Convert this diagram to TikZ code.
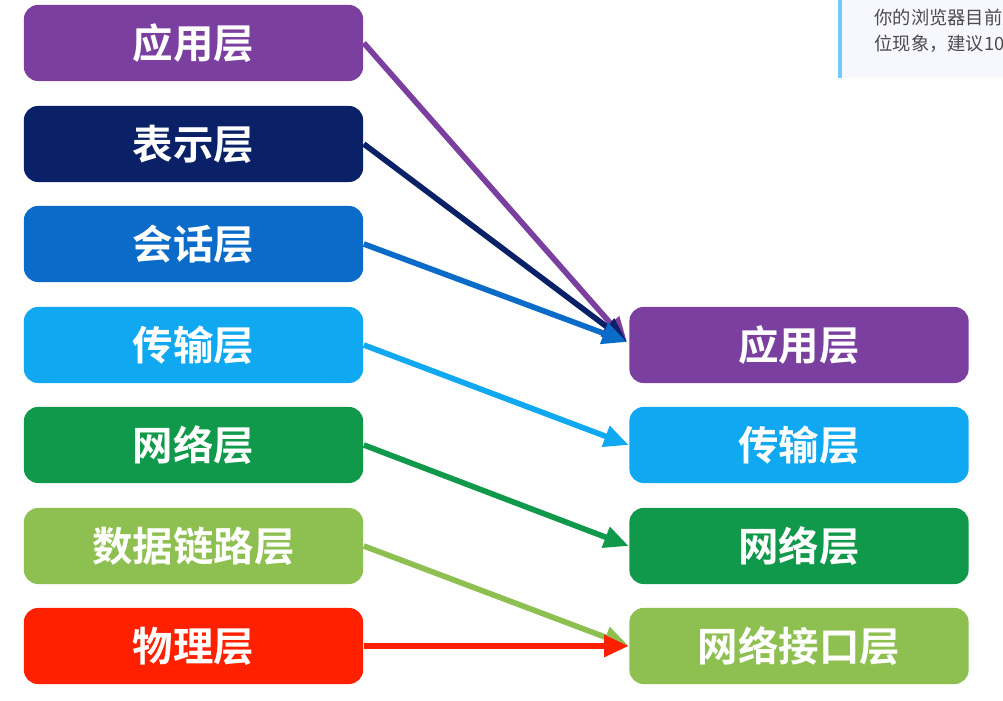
\documentclass[tikz,border=0pt]{standalone}
\usepackage{fontspec}
\newfontfamily\cjk{Noto Sans CJK SC Bold}
\newfontfamily\cjkr{Noto Sans CJK SC}
\usetikzlibrary{arrows.meta}
\definecolor{cA}{HTML}{7B3FA0}
\definecolor{cB}{HTML}{0A2168}
\definecolor{cC}{HTML}{0A6CC8}
\definecolor{cD}{HTML}{10A8F0}
\definecolor{cE}{HTML}{10994A}
\definecolor{cF}{HTML}{8DC050}
\definecolor{cG}{HTML}{FF2000}
\begin{document}
\begin{tikzpicture}[x=0.01cm,y=-0.01cm,
  layer/.style={rounded corners=4pt,minimum width=3.39cm,minimum height=0.76cm,text=white,font=\cjk\fontsize{11.5}{13}\selectfont,inner sep=0},
  conn/.style={line width=1.6pt,-{Triangle[length=7pt,width=6pt]}}]
\useasboundingbox (0,0) rectangle (1003,701);
\fill[white] (0,0) rectangle (1003,701);
\foreach \n/\t/\c/\y in {a/应用层/cA/43,b/表示层/cB/144,c/会话层/cC/244,d/传输层/cD/345,e/网络层/cE/445,f/数据链路层/cF/546,g/物理层/cG/646}
  \node[layer,fill=\c] (\n) at (193.5,\y) {\t};
\foreach \n/\t/\c/\y in {ra/应用层/cA/345,rb/传输层/cD/445,rc/网络层/cE/546,rd/网络接口层/cF/646}
  \node[layer,fill=\c] (\n) at (799,\y) {\t};
\coordinate (p1) at (627,342);
\draw[conn,cA] (a.east) -- (p1);
\draw[conn,cB] (b.east) -- (p1);
\draw[conn,cC] (c.east) -- (p1);
\draw[conn,cD] (d.east) -- (rb.west);
\draw[conn,cE] (e.east) -- (rc.west);
\draw[conn,cF] (f.east) -- (rd.west);
\draw[conn,cG] (g.east) -- (rd.west);
\begin{scope}
\clip (838,0) rectangle (1003,80);
\fill[blue!3] (838,0) rectangle (1010,78);
\fill[cD!60] (838,0) rectangle (842,78);
\node[anchor=west,font=\cjkr\fontsize{5.2}{6}\selectfont,text=black!70] (n1) at (862,18) {你的浏览器目前处于缩放状态};
\node[anchor=west,font=\cjkr\fontsize{5.2}{6}\selectfont,text=black!70] (n2) at (862,44) {位现象，建议100\%大小显示};
\end{scope}
\end{tikzpicture}
\end{document}
